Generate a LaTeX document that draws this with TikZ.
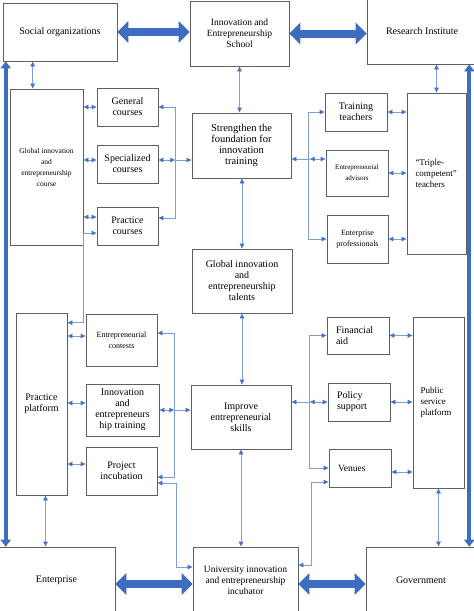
\documentclass[tikz,border=0pt]{standalone}
\usepackage{fontspec}
\setmainfont{Liberation Serif}
\usetikzlibrary{arrows.meta}
\definecolor{boxgray}{RGB}{95,95,95}
\definecolor{lineblue}{RGB}{125,158,216}
\definecolor{headblue}{RGB}{68,114,196}
\definecolor{bigblue}{RGB}{62,108,190}
\begin{document}
\begin{tikzpicture}[x=1pt,y=-1pt,
      box/.style={draw=boxgray,line width=0.6pt,align=center,inner sep=1pt},
      fs/.style={font=\fontsize{#1}{11}\selectfont},
      twoway/.style={lineblue,line width=0.6pt,{Latex[length=5pt,width=5pt,color=headblue]}-{Latex[length=5pt,width=5pt,color=headblue]}},
      oneway/.style={lineblue,line width=0.6pt,-{Latex[length=5pt,width=5pt,color=headblue]}},
      bigway/.style={bigblue,line width=8pt,{Triangle[length=11pt,width=21pt]}-{Triangle[length=11pt,width=21pt]}},
      sideway/.style={bigblue,line width=4pt,{Triangle[length=7pt,width=10pt]}-{Triangle[length=7pt,width=10pt]}}]
      \useasboundingbox (0,0) rectangle (474,611);

      \node[box,fs=10,minimum width=114pt,minimum height=58pt] (social) at (60,32) {Social organizations};
      \node[box,fs=9.5,minimum width=99pt,minimum height=65pt] (school) at (239.5,33.5) {Innovation and\\Entrepreneurship\\School};
      \node[box,fs=10,minimum width=110pt,minimum height=66pt] (research) at (422,31) {Research Institute};

      \node[box,fs=7.5,minimum width=73pt,minimum height=156pt] (course) at (46.5,167) {Global innovation\\and\\entrepreneurship\\course};
      \node[box,fs=10,minimum width=61pt,minimum height=38pt] (general) at (127.5,107) {General\\courses};
      \node[box,fs=10,minimum width=61pt,minimum height=38pt] (special) at (127.5,164) {Specialized\\courses};
      \node[box,fs=10,minimum width=61pt,minimum height=38pt] (pcourses) at (127.5,226) {Practice\\courses};
      \node[box,fs=10.5,minimum width=99pt,minimum height=65pt] (strengthen) at (241.5,145.5) {Strengthen the\\foundation for\\innovation\\training};
      \node[box,fs=10,minimum width=62pt,minimum height=38pt] (trainers) at (356,112) {Training\\teachers};
      \node[box,fs=7,minimum width=62pt,minimum height=46pt] (advisors) at (357,173) {Entrepreneurial\\advisors};
      \node[box,fs=8,minimum width=61pt,minimum height=48pt] (professionals) at (357.5,239) {Enterprise\\professionals};
      \node[box,fs=9,minimum width=59pt,minimum height=161pt,text width=42pt,align=left] (triple) at (436.5,173.5) {``Triple-\\competent''\\teachers};

      \node[box,fs=10,minimum width=100pt,minimum height=64pt] (talents) at (242,281) {Global innovation\\and\\entrepreneurship\\talents};

      \node[box,fs=10,minimum width=51pt,minimum height=182pt] (platform) at (41.5,404) {Practice\\platform};
      \node[box,fs=8,minimum width=71pt,minimum height=52pt] (contests) at (121.5,340) {Entrepreneurial\\contests};
      \node[box,fs=10,minimum width=73pt,minimum height=52pt] (ietraining) at (122.5,410) {Innovation\\and\\entrepreneurs\\hip training};
      \node[box,fs=10,minimum width=71pt,minimum height=48pt] (incubation) at (121.5,471) {Project\\incubation};
      \node[box,fs=10,minimum width=100pt,minimum height=64pt] (improve) at (241,417) {Improve\\entrepreneurial\\skills};
      \node[box,fs=10,minimum width=62pt,minimum height=37pt,text width=44pt,align=left] (financial) at (358,335.5) {Financial\\aid};
      \node[box,fs=10,minimum width=62pt,minimum height=38pt,text width=44pt,align=left] (policy) at (359,402) {Policy\\support};
      \node[box,fs=9.5,minimum width=62pt,minimum height=38pt,text width=44pt,align=left] (venues) at (360,468) {Venues};
      \node[box,fs=9,minimum width=51pt,minimum height=171pt,text width=36pt,align=left] (public) at (438.5,402.5) {Public\\service\\platform};

      \node[box,fs=10,minimum width=117pt,minimum height=66pt] (enterprise) at (56.5,580) {Enterprise};
      \node[box,fs=9.5,minimum width=105pt,minimum height=66pt] (incubator) at (245.5,580) {University innovation\\and entrepreneurship\\incubator};
      \node[box,fs=10,minimum width=110pt,minimum height=66pt] (government) at (421,580) {Government};

      \draw[bigway] (social.east) -- (social.east -| school.west);
      \draw[bigway] (school.east) -- (school.east -| research.west);
      \draw[bigway] ([yshift=-4pt]enterprise.east) -- ([yshift=-4pt]enterprise.east -| incubator.west);
      \draw[bigway] ([yshift=-4pt]incubator.east) -- ([yshift=-4pt]incubator.east -| government.west);
      \draw[sideway] ([xshift=3pt]social.south west) -- ([xshift=3pt]social.south west |- enterprise.north);
      \draw[sideway] ([xshift=-8pt]research.south east) -- ([xshift=-8pt]research.south east |- government.north);

      \draw[twoway] ([xshift=30pt]social.south west) -- ([xshift=23pt]course.north west);
      \draw[twoway] (school.south) -- (school.south |- strengthen.north);
      \draw[twoway] (triple.north |- research.south) -- (triple.north);

      \draw[twoway] (general.west -| course.east) -- (general.west);
      \draw[twoway] ([yshift=4pt]special.west -| course.east) -- ([yshift=4pt]special.west);
      \draw[twoway] ([yshift=9pt]pcourses.west -| course.east) -- ([yshift=9pt]pcourses.west);
      \draw[twoway] ([yshift=-7pt]pcourses.west) -- ++(-13,0) |- ([yshift=-10pt]platform.north east);
      \draw[twoway] (general.east) -- ++(17,0) |- ([yshift=8pt]pcourses.east);
      \draw[twoway] ([yshift=4pt]special.east) -- ++(17,0);
      \draw[oneway] ([xshift=17pt,yshift=4pt]special.east) -- ([yshift=4pt]special.east -| strengthen.west);

      \draw[twoway] (trainers.west) -- ++(-16,0) |- (professionals.west);
      \draw[twoway] ([yshift=14pt]advisors.west) -- ++(-16,0);
      \draw[oneway] ([xshift=-16pt,yshift=14pt]advisors.west) -- ([yshift=14pt]advisors.west -| strengthen.east);
      \draw[twoway] (trainers.east) -- (trainers.east -| triple.west);
      \draw[twoway] (advisors.east) -- (advisors.east -| triple.west);
      \draw[twoway] (professionals.east) -- (professionals.east -| triple.west);

      \draw[twoway] (talents.north |- strengthen.south) -- (talents.north);
      \draw[twoway] (talents.south) -- (talents.south |- improve.north);
      \draw[twoway] (improve.south) -- (improve.south |- incubator.north);

      \draw[twoway] ([yshift=4pt]contests.west -| platform.east) -- ([yshift=4pt]contests.west);
      \draw[twoway] ([yshift=7pt]ietraining.west -| platform.east) -- ([yshift=7pt]ietraining.west);
      \draw[twoway] ([yshift=7pt]incubation.west -| platform.east) -- ([yshift=7pt]incubation.west);
      \draw[twoway] ([yshift=7pt]contests.east) -- ++(17,0) |- ([yshift=-6pt]incubation.east);
      \draw[twoway] (ietraining.east) -- ++(15,0);
      \draw[oneway] ([xshift=15pt]ietraining.east) -- (ietraining.east -| improve.west);
      \draw[twoway] ([yshift=-12pt]incubation.east) -- ++(19,0) |- ([yshift=13pt]incubator.west);

      \draw[twoway] (financial.west) -- ++(-17,0) |- (venues.west);
      \draw[twoway] (policy.west) -- ++(-18,0);
      \draw[oneway] ([xshift=-18pt]policy.west) -- (policy.west -| improve.east);
      \draw[twoway] ([yshift=-14pt]venues.west) -- ++(-17,0) |- ([yshift=15pt]incubator.east);
      \draw[twoway] (financial.east) -- (financial.east -| public.west);
      \draw[twoway] (policy.east) -- (policy.east -| public.west);
      \draw[twoway] ([yshift=-4pt]venues.east) -- ([yshift=-4pt]venues.east -| public.west);

      \draw[twoway] ([xshift=4pt]platform.south) -- ([xshift=4pt]platform.south |- enterprise.north);
      \draw[twoway] (public.south) -- (public.south |- government.north);
\end{tikzpicture}
\end{document}
